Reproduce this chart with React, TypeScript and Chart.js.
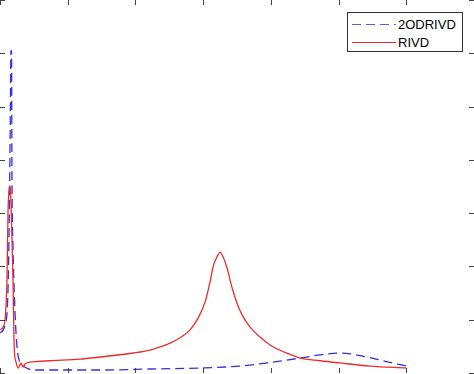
import React, { useEffect, useRef } from "react";
import { Chart, registerables } from "chart.js";

Chart.register(...registerables);

// Axis tick values (tick marks only, no labels in the crop)
const xTicks = [0, 1, 2, 3, 4, 5, 6, 7];
const yTicks = [0, 1, 2, 3, 4, 5, 6, 7];

// Series: 2ODRIVD (blue dashed)
const blueX = [0, 0.074, 0.118, 0.14, 0.152, 0.162, 0.17, 0.177, 0.192, 0.222, 0.251, 0.295, 0.34, 0.399, 0.487, 0.886, 1.477, 2.216, 2.954, 3.545, 3.944, 4.431, 4.727, 5.007, 5.17, 5.421, 5.687, 6.0];
const blueY = [0.75, 0.9, 1.55, 3.25, 4.75, 6.06, 6.02, 3.62, 2.36, 1.13, 0.49, 0.19, 0.13, 0.09, 0.056, 0.056, 0.056, 0.075, 0.094, 0.13, 0.19, 0.28, 0.34, 0.375, 0.36, 0.3, 0.22, 0.13];

// Series: RIVD (red solid)
const redX = [0, 0.044, 0.074, 0.089, 0.103, 0.118, 0.133, 0.143, 0.155, 0.17, 0.192, 0.207, 0.214, 0.236, 0.266, 0.295, 0.31, 0.34, 0.369, 0.399, 0.487, 0.739, 1.182, 1.477, 1.965, 2.216, 2.363, 2.511, 2.659, 2.807, 2.925, 3.028, 3.102, 3.146, 3.205, 3.25, 3.294, 3.353, 3.427, 3.501, 3.575, 3.693, 3.84, 3.988, 4.092, 4.284, 4.431, 4.727, 5.007, 5.465, 6.0];
const redY = [0.81, 0.86, 0.99, 1.28, 1.75, 3.0, 3.43, 3.51, 3.43, 2.87, 1.75, 0.62, 0.38, 0.21, 0.09, 0.15, 0.19, 0.11, 0.17, 0.19, 0.21, 0.23, 0.26, 0.3, 0.375, 0.43, 0.49, 0.56, 0.66, 0.81, 1.03, 1.33, 1.71, 1.99, 2.18, 2.27, 2.18, 1.97, 1.6, 1.31, 1.09, 0.86, 0.675, 0.525, 0.45, 0.35, 0.28, 0.23, 0.19, 0.13, 0.094];

const seriesNames = ["2ODRIVD", "RIVD"];
const BLUE = "#3030e8";
const RED = "#ec2c2c";

const ticksPlugin = {
  id: "innerTicks",
  afterDraw(chart: any) {
    const { ctx, chartArea, scales } = chart;
    const len = 5;
    ctx.save();
    ctx.strokeStyle = "#444";
    ctx.lineWidth = 1;
    ctx.beginPath();
    xTicks.forEach((v) => {
      const px = Math.round(scales.x.getPixelForValue(v)) + 0.5;
      ctx.moveTo(px, chartArea.bottom);
      ctx.lineTo(px, chartArea.bottom - len);
      ctx.moveTo(px, chartArea.top);
      ctx.lineTo(px, chartArea.top + len);
    });
    yTicks.forEach((v) => {
      const py = Math.round(scales.y.getPixelForValue(v)) + 0.5;
      ctx.moveTo(chartArea.left, py);
      ctx.lineTo(chartArea.left + len, py);
      ctx.moveTo(chartArea.right, py);
      ctx.lineTo(chartArea.right - len, py);
    });
    ctx.stroke();
    ctx.restore();
  },
};

const legendRows = [
  { name: seriesNames[0], bg: "repeating-linear-gradient(to right, #5a5af0 0px, #5a5af0 9px, transparent 9px, transparent 14px)" },
  { name: seriesNames[1], bg: RED },
];

export default function App() {
  const ref = useRef<HTMLCanvasElement | null>(null);
  useEffect(() => {
    if (!ref.current) return;
    const chart = new Chart(ref.current, {
      type: "line",
      data: {
        datasets: [
          {
            label: seriesNames[0],
            data: blueX.map((x, i) => ({ x, y: blueY[i] })),
            borderColor: BLUE,
            borderWidth: 1.3,
            borderDash: [9, 5],
            pointRadius: 0,
            cubicInterpolationMode: "monotone",
            fill: false,
            order: 2,
          },
          {
            label: seriesNames[1],
            data: redX.map((x, i) => ({ x, y: redY[i] })),
            borderColor: RED,
            borderWidth: 1.3,
            pointRadius: 0,
            cubicInterpolationMode: "monotone",
            fill: false,
            order: 1,
          },
        ],
      },
      options: {
        animation: false,
        responsive: false,
        devicePixelRatio: 1,
        layout: { padding: { left: 10, right: 10, top: 10, bottom: 11 } },
        plugins: { legend: { display: false }, tooltip: { enabled: false } },
        scales: {
          x: { type: "linear", min: 0, max: 7, display: false },
          y: { type: "linear", min: 0, max: 7, display: false },
        },
      },
      plugins: [ticksPlugin],
    });
    return () => chart.destroy();
  }, []);
  return (
    <div style={{ position: "fixed", left: 0, top: 0, width: 474, height: 374, overflow: "hidden", background: "#fff" }}>
      <canvas
        ref={ref}
        width={494}
        height={394}
        style={{ position: "absolute", left: -10, top: -10, width: 494, height: 394 }}
      />
      <div
        style={{
          position: "absolute",
          left: 347,
          top: 12,
          width: 116,
          height: 40,
          boxSizing: "border-box",
          border: "1px solid #333",
          background: "#fff",
          fontFamily: "'Liberation Sans', Arial, sans-serif",
          fontSize: 13,
          color: "#000",
        }}
      >
        {legendRows.map((r, i) => (
          <div key={r.name} style={{ position: "absolute", left: 0, top: 4 + i * 18, height: 16, width: "100%" }}>
            <div style={{ position: "absolute", left: 4, top: 7, width: 44, height: 1, background: r.bg }} />
            <span style={{ position: "absolute", left: 50, top: 0, lineHeight: "16px", whiteSpace: "nowrap" }}>{r.name}</span>
          </div>
        ))}
      </div>
    </div>
  );
}
